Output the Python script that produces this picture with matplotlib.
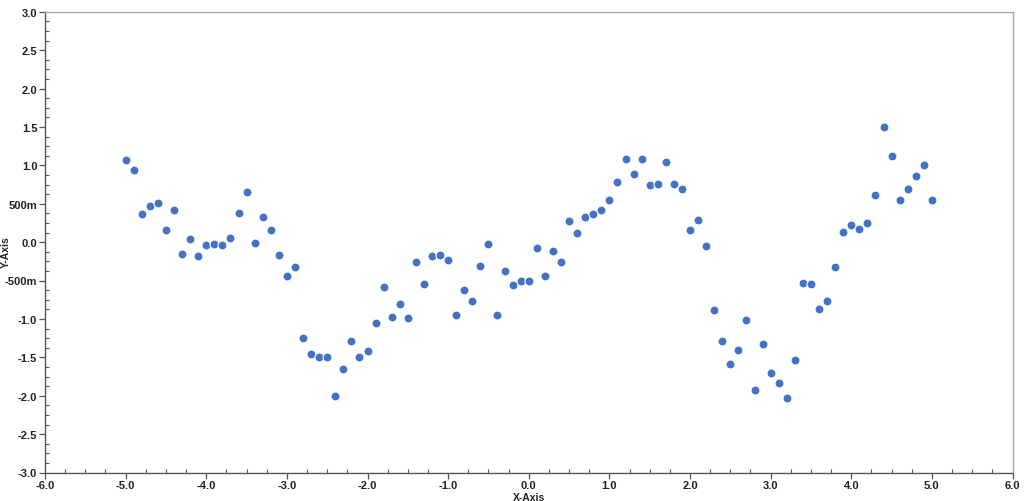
import numpy as np
import matplotlib
matplotlib.use("Agg")
import matplotlib.pyplot as plt
from matplotlib.ticker import MultipleLocator, FuncFormatter

x_values = [round(-5.0 + 0.1 * i, 1) for i in range(101)]
y_values = [
    1.07, 0.94, 0.37, 0.47, 0.51, 0.16, 0.42, -0.16, 0.04, -0.18,
    -0.04, -0.03, -0.04, 0.05, 0.38, 0.65, -0.01, 0.33, 0.16, -0.17,
    -0.44, -0.32, -1.25, -1.46, -1.50, -1.50, -2.01, -1.65, -1.29, -1.49,
    -1.42, -1.05, -0.58, -0.97, -0.81, -0.99, -0.26, -0.54, -0.18, -0.17,
    -0.23, -0.95, -0.63, -0.77, -0.31, -0.03, -0.95, -0.37, -0.56, -0.50,
    -0.50, -0.08, -0.44, -0.12, -0.26, 0.27, 0.12, 0.33, 0.37, 0.42,
    0.55, 0.78, 1.08, 0.89, 1.08, 0.74, 0.76, 1.04, 0.76, 0.69,
    0.16, 0.29, -0.05, -0.89, -1.29, -1.59, -1.40, -1.02, -1.93, -1.33,
    -1.71, -1.83, -2.03, -1.54, -0.53, -0.55, -0.87, -0.77, -0.33, 0.13,
    0.22, 0.17, 0.25, 0.61, 1.50, 1.12, 0.55, 0.69, 0.86, 1.00,
    0.55,
]

plt.rcParams['font.family'] = ['Liberation Sans', 'DejaVu Sans']

fig = plt.figure(figsize=(10.24, 5.02), dpi=100)
ax = fig.add_axes([45 / 1024, 1 - 473.5 / 502, (1012.5 - 45) / 1024, (473.5 - 12.7) / 502])

ax.scatter(x_values, y_values, s=42, color='#4472C4', edgecolors='white',
           linewidths=0.8, zorder=3)

ax.set_xlim(-6, 6)
ax.set_ylim(-3, 3)
ax.xaxis.set_major_locator(MultipleLocator(1.0))
ax.xaxis.set_minor_locator(MultipleLocator(0.25))
ax.yaxis.set_major_locator(MultipleLocator(0.5))
ax.yaxis.set_minor_locator(MultipleLocator(0.125))

def yfmt(v, pos):
    if abs(abs(v) - 0.5) < 1e-9:
        return ('-' if v < 0 else '') + '500m'
    return f"{v:.1f}"

ax.xaxis.set_major_formatter(FuncFormatter(lambda v, p: f"{v:.1f}"))
ax.yaxis.set_major_formatter(FuncFormatter(yfmt))

for side in ['left', 'bottom']:
    ax.spines[side].set_color('#555555')
    ax.spines[side].set_linewidth(1.0)
for side in ['top', 'right']:
    ax.spines[side].set_color('#aaaaaa')
    ax.spines[side].set_linewidth(1.0)

ax.tick_params(axis='both', which='major', direction='out', length=4,
               width=0.9, color='#555555', labelsize=8, pad=1.5)
ax.tick_params(axis='both', which='minor', direction='in', length=3,
               width=0.8, color='#555555')
for lbl in ax.get_xticklabels() + ax.get_yticklabels():
    lbl.set_fontweight('bold')
    lbl.set_color('#222222')

ax.set_xlabel('X-Axis', fontsize=7.5, fontweight='bold', labelpad=1, color='#222222')
ax.set_ylabel('Y-Axis', fontsize=7.5, fontweight='bold', color='#222222',
              va='center')
ax.yaxis.set_label_coords(-0.0405, 0.48)

fig.savefig('out.png', dpi=100)
